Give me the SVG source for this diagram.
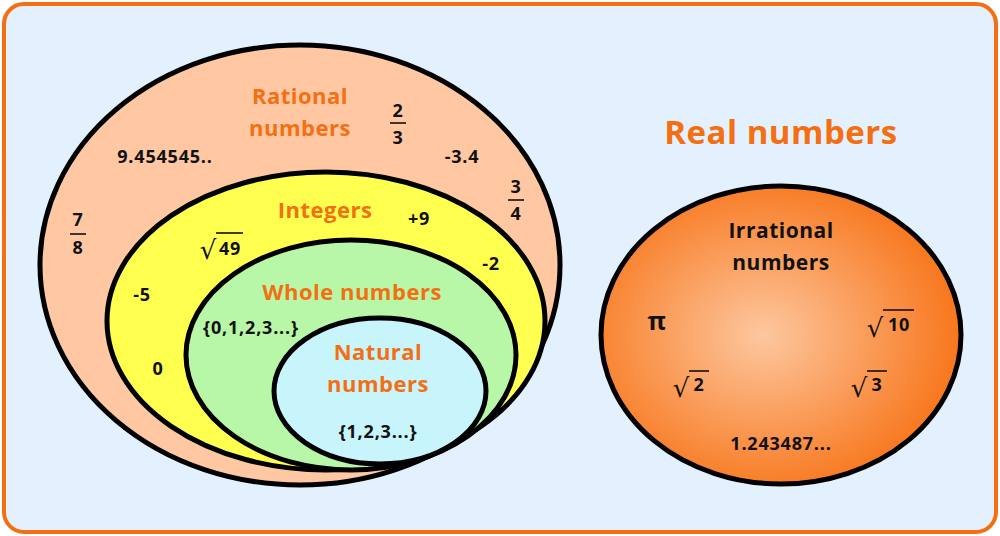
<svg xmlns="http://www.w3.org/2000/svg" width="1000" height="536" viewBox="0 0 1000 536">
<style>
text{font-family:"Open Sans",Lato,sans-serif;font-weight:bold;text-anchor:middle}
.o{fill:#f46f12;font-size:22px;letter-spacing:0.5px}
.b{fill:#111;font-size:18px;letter-spacing:0.8px}
.L{font-size:21px;letter-spacing:0.5px}
.r{font-size:26px;font-weight:normal;font-family:"DejaVu Sans",sans-serif;letter-spacing:0}
.e{stroke:#000;stroke-width:5}
.v{stroke:#111;stroke-width:1.6}
</style>
<defs>
<radialGradient id="g" cx="0.45" cy="0.5" r="0.6">
<stop offset="0" stop-color="#fdc79f"/><stop offset="1" stop-color="#f76f10"/>
</radialGradient>
</defs>
<rect x="4" y="4" width="992" height="528" rx="20" fill="#e3f0fd" stroke="#f46f12" stroke-width="4"/>
<text class="o" x="781" y="144" style="font-size:33px">Real numbers</text>
<g id="rational"><ellipse class="e" cx="300" cy="265" rx="260" ry="220" fill="#ffc8a3"/>
<text class="o" x="300" y="104">Rational</text><text class="o" x="300" y="136">numbers</text>
<text class="b" x="398" y="117">2</text><line class="v" x1="390" y1="123" x2="406" y2="123"/><text class="b" x="398" y="144">3</text>
<text class="b" x="165" y="163">9.454545..</text>
<text class="b" x="462" y="163">-3.4</text>
<text class="b" x="516" y="193">3</text><line class="v" x1="508" y1="200" x2="524" y2="200"/><text class="b" x="516" y="220">4</text>
<text class="b" x="78" y="226">7</text><line class="v" x1="70" y1="234" x2="86" y2="234"/><text class="b" x="78" y="254">8</text>
</g>
<g id="integers"><ellipse class="e" cx="326" cy="321" rx="219" ry="149" fill="#ffff4f"/>
<text class="o" x="325" y="218">Integers</text>
<text class="b" x="419" y="225">+9</text>
<text class="b r" x="208" y="259">√</text><line class="v" x1="216" y1="233" x2="243" y2="233"/><text class="b" x="230" y="255">49</text>
<text class="b" x="491" y="270">-2</text>
<text class="b" x="142" y="301">-5</text>
<text class="b" x="158" y="375">0</text>
</g>
<g id="whole"><ellipse class="e" cx="351" cy="355" rx="165" ry="115" fill="#b8f7a8"/>
<text class="o" x="352" y="300">Whole numbers</text>
<text class="b" x="251" y="334">{0,1,2,3...}</text>
</g>
<g id="natural"><ellipse class="e" cx="380" cy="391" rx="106" ry="73" fill="#c8f4fc"/>
<text class="o" x="378" y="360">Natural</text><text class="o" x="378" y="392">numbers</text>
<text class="b" x="378" y="438">{1,2,3...}</text>
</g>
<g id="irrational"><ellipse class="e" cx="781" cy="335" rx="180" ry="149" fill="url(#g)"/>
<text class="b L" x="781" y="238">Irrational</text><text class="b L" x="781" y="270">numbers</text>
<text class="b L" x="657" y="330" style="font-size:25px">π</text>
<text class="b r" x="875" y="337">√</text><line class="v" x1="883" y1="310" x2="914" y2="310"/><text class="b" x="899" y="331">10</text>
<text class="b r" x="681" y="397">√</text><line class="v" x1="689" y1="371" x2="709" y2="371"/><text class="b" x="699" y="391">2</text>
<text class="b r" x="859" y="397">√</text><line class="v" x1="867" y1="371" x2="887" y2="371"/><text class="b" x="877" y="391">3</text>
<text class="b" x="781" y="450">1.243487...</text>
</g>
<g id="connectors"/>
</svg>
